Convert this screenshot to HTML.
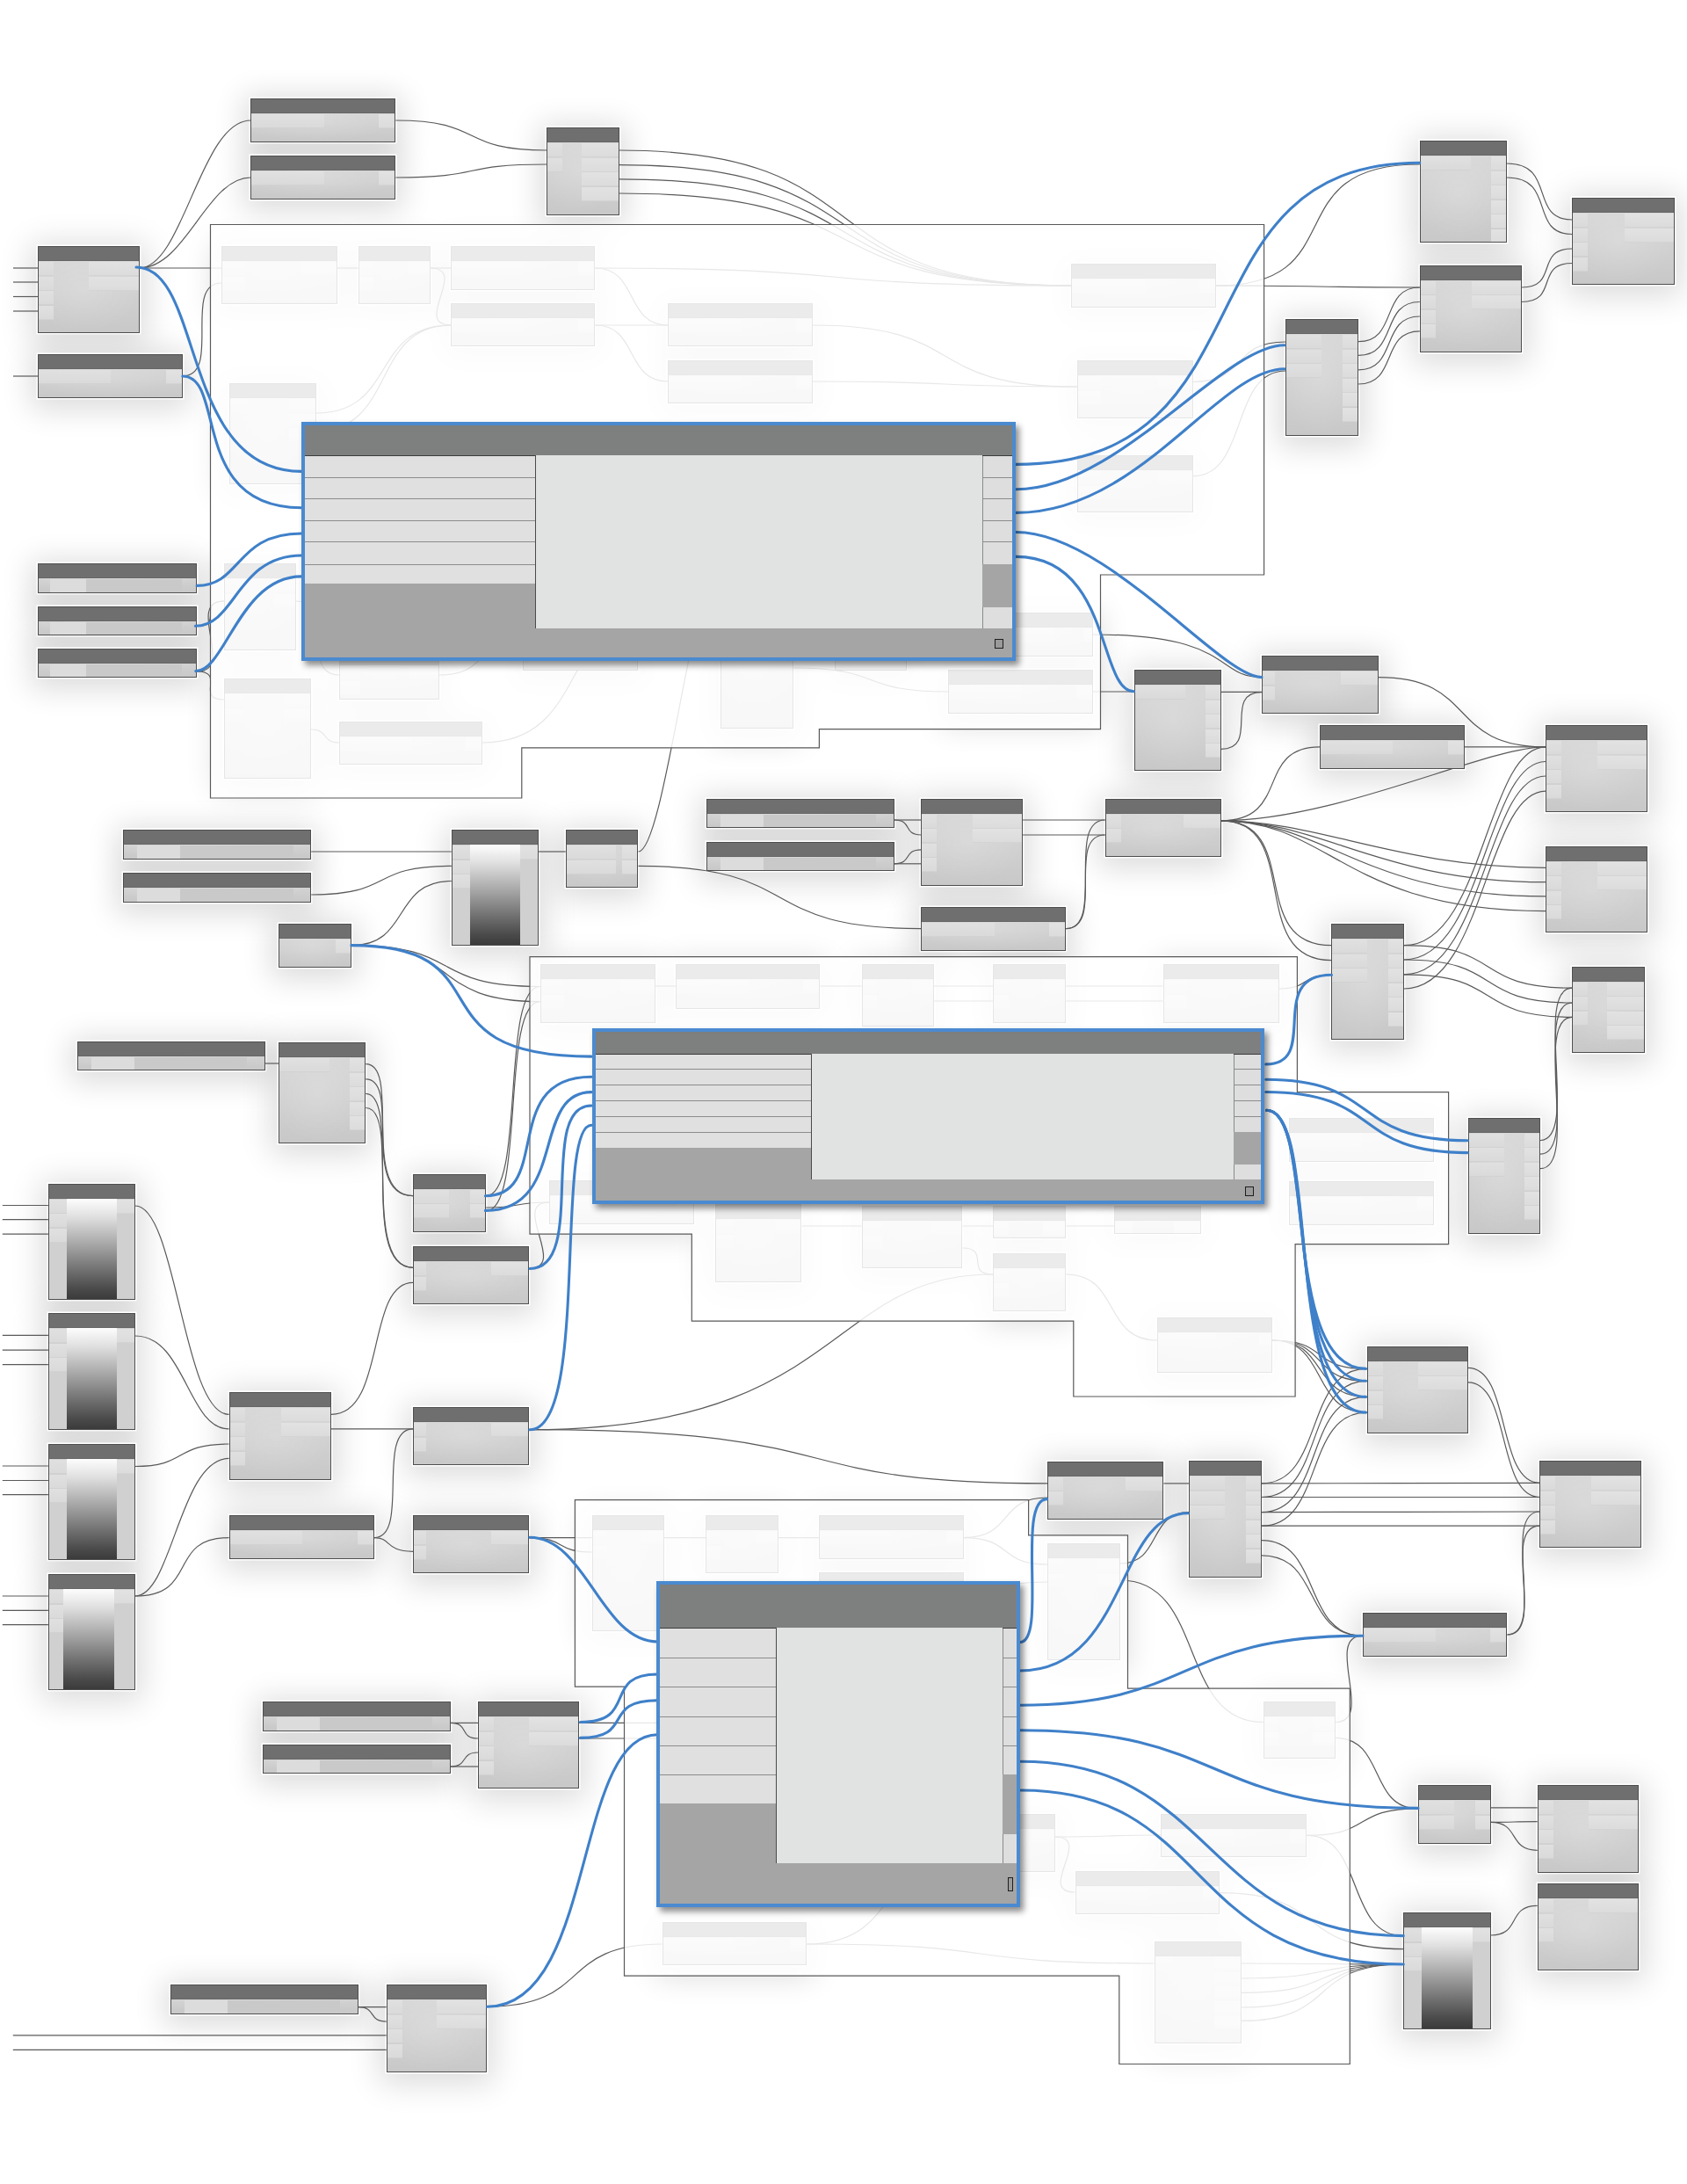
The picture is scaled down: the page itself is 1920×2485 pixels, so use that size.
<!DOCTYPE html><html><head><meta charset="utf-8"><title>Graph</title><style>
*{margin:0;padding:0;box-sizing:border-box}
html,body{width:1920px;height:2485px;background:#fff;overflow:hidden;font-family:"Liberation Sans",sans-serif}
#c{position:relative;width:1920px;height:2485px;background:#fff;filter:blur(0.45px)}
svg{position:absolute;left:0;top:0}
.n{position:absolute;border:1px solid #4e4e4e;background:radial-gradient(ellipse 55% 50% at 45% 50%,rgba(255,255,255,.16),rgba(255,255,255,0)),linear-gradient(180deg,#d9d9d9 0%,#d1d1d1 55%,#c8c8c8 100%);
 overflow:hidden}
.sh{position:absolute;box-shadow:0 0 0 1.5px #fff,0 5px 34px 8px rgba(0,0,0,.14);background:#fff}
.n i{position:absolute;display:block}
.n .hd{left:0;top:0;right:0;height:16px;background:#6f6f6f;border-bottom:1px solid #666}
.n .pl{left:0;height:16px;background:linear-gradient(180deg,#e0e0e0,#dadada);border-bottom:1px solid #d2d2d2}
.n .pr{right:0;height:16px;background:linear-gradient(180deg,#e2e2e2,#dcdcdc);border-bottom:1px solid #d4d4d4}
.n .fl{top:17px;height:15px;background:#dcdcdc}
.n .fm{top:17px;height:15px;background:#c9c9c9}
.n .gl{left:0;top:16px;bottom:0;background:#d0d0d0}
.n .gg{top:16px;bottom:0;background:linear-gradient(180deg,#fdfdfd 0%,#e0e0e0 18%,#a8a8a8 45%,#737373 70%,#4a4a4a 90%,#3b3b3b 100%)}
.bn{position:absolute;border:4px solid #4a8ad0;background:#a5a5a5;box-shadow:4px 5px 7px rgba(0,0,0,.45)}
.bn i{position:absolute;display:block}
.bn .bh{background:#7e7f7f;border-bottom:1.5px solid #3c3c3c}
.bn .br{background:#e0e0e0}
.bn .bt{border-top:1px solid #8c8c8c}
.bn .bp{background:#e1e2e2;border-left:1.5px solid #4a4a4a}
.bn .bo{background:#dedede;border-left:1px solid #8a8a8a}
.bn .bi{border:1.5px solid #1e1e1e;background:#9a9a9a}
</style></head><body><div id="c">
<div style="position:absolute;left:0;top:0;z-index:1">
<div class="sh" style="left:285.3px;top:112px;width:165.1px;height:50.2px"></div>
<div class="sh" style="left:285.3px;top:177px;width:165.1px;height:50.2px"></div>
<div class="sh" style="left:43.2px;top:280px;width:115.6px;height:99.2px"></div>
<div class="sh" style="left:43.2px;top:403px;width:164.6px;height:49.8px"></div>
<div class="sh" style="left:622.3px;top:145.4px;width:82.5px;height:99.6px"></div>
<div class="sh" style="left:1615.8px;top:160.2px;width:99.1px;height:116.1px"></div>
<div class="sh" style="left:1789.4px;top:225.1px;width:116.4px;height:99px"></div>
<div class="sh" style="left:1615.8px;top:301.9px;width:115.8px;height:99.6px"></div>
<div class="sh" style="left:1463.3px;top:363.4px;width:82.8px;height:132.6px"></div>
<div class="sh" style="left:43.2px;top:641.1px;width:181px;height:33.6px"></div>
<div class="sh" style="left:43.2px;top:689.5px;width:181px;height:33.5px"></div>
<div class="sh" style="left:43.2px;top:738.4px;width:181px;height:33px"></div>
<div class="sh" style="left:140.3px;top:944.1px;width:213.9px;height:33.6px"></div>
<div class="sh" style="left:140.3px;top:992.5px;width:213.9px;height:34.1px"></div>
<div class="sh" style="left:513.8px;top:944.2px;width:99.3px;height:131.9px"></div>
<div class="sh" style="left:643.7px;top:944.2px;width:82.8px;height:66.2px"></div>
<div class="sh" style="left:803.5px;top:909.4px;width:214.3px;height:32.7px"></div>
<div class="sh" style="left:803.5px;top:958.3px;width:214.3px;height:33px"></div>
<div class="sh" style="left:1290.6px;top:762.3px;width:99px;height:115px"></div>
<div class="sh" style="left:1436px;top:746.4px;width:132.6px;height:65.4px"></div>
<div class="sh" style="left:1048.4px;top:908.6px;width:115.5px;height:99.1px"></div>
<div class="sh" style="left:1257.6px;top:908.6px;width:132px;height:66.4px"></div>
<div class="sh" style="left:1048.4px;top:1032.3px;width:164.8px;height:49.5px"></div>
<div class="sh" style="left:1502px;top:825.2px;width:164.8px;height:49.8px"></div>
<div class="sh" style="left:1759.2px;top:825.2px;width:115.6px;height:99px"></div>
<div class="sh" style="left:1759.2px;top:962.6px;width:115.6px;height:98.2px"></div>
<div class="sh" style="left:317.2px;top:1050.8px;width:82.6px;height:49.8px"></div>
<div class="sh" style="left:87.6px;top:1185.1px;width:214px;height:33.3px"></div>
<div class="sh" style="left:317.2px;top:1186px;width:99.1px;height:115.2px"></div>
<div class="sh" style="left:54.9px;top:1346.7px;width:99px;height:132.3px"></div>
<div class="sh" style="left:54.9px;top:1494.4px;width:99px;height:132.3px"></div>
<div class="sh" style="left:54.9px;top:1643.2px;width:99px;height:132px"></div>
<div class="sh" style="left:54.9px;top:1791.2px;width:99px;height:132px"></div>
<div class="sh" style="left:470px;top:1335.9px;width:83.1px;height:66.3px"></div>
<div class="sh" style="left:470px;top:1418.4px;width:132.3px;height:65.5px"></div>
<div class="sh" style="left:1515.4px;top:1051.4px;width:82.5px;height:131.7px"></div>
<div class="sh" style="left:1789.4px;top:1099.8px;width:82.5px;height:98.7px"></div>
<div class="sh" style="left:1670.5px;top:1271.9px;width:82.5px;height:131.7px"></div>
<div class="sh" style="left:260.6px;top:1584.3px;width:116.4px;height:99.6px"></div>
<div class="sh" style="left:260.6px;top:1724.3px;width:165.4px;height:49.5px"></div>
<div class="sh" style="left:470px;top:1601px;width:132.3px;height:66.4px"></div>
<div class="sh" style="left:470px;top:1724.3px;width:132.3px;height:66px"></div>
<div class="sh" style="left:298.8px;top:1936px;width:213.9px;height:33.6px"></div>
<div class="sh" style="left:298.8px;top:1985.2px;width:213.9px;height:33.3px"></div>
<div class="sh" style="left:544px;top:1936px;width:115.3px;height:98.7px"></div>
<div class="sh" style="left:1192.2px;top:1662.8px;width:132.3px;height:65.8px"></div>
<div class="sh" style="left:1353.2px;top:1662.3px;width:82.5px;height:132.3px"></div>
<div class="sh" style="left:1555.5px;top:1531.8px;width:115.2px;height:98.8px"></div>
<div class="sh" style="left:1752.4px;top:1662.3px;width:115.2px;height:99px"></div>
<div class="sh" style="left:1551px;top:1835.3px;width:164.4px;height:49.7px"></div>
<div class="sh" style="left:194px;top:2258.4px;width:213.7px;height:33.8px"></div>
<div class="sh" style="left:439.6px;top:2258.4px;width:114.9px;height:99.3px"></div>
<div class="sh" style="left:1613.8px;top:2031.3px;width:82.8px;height:66.3px"></div>
<div class="sh" style="left:1749.6px;top:2031.3px;width:115.5px;height:99.6px"></div>
<div class="sh" style="left:1749.6px;top:2143.1px;width:115.5px;height:99.3px"></div>
<div class="sh" style="left:1597.3px;top:2176.4px;width:99.3px;height:132.3px"></div>
<div class="sh" style="left:252px;top:280px;width:132px;height:65.5px"></div>
<div class="sh" style="left:407.5px;top:280px;width:82px;height:65.5px"></div>
<div class="sh" style="left:513.4px;top:280px;width:163.9px;height:50px"></div>
<div class="sh" style="left:513.4px;top:345px;width:163.9px;height:49px"></div>
<div class="sh" style="left:760.4px;top:345px;width:164.6px;height:49px"></div>
<div class="sh" style="left:760.4px;top:410px;width:164.6px;height:49px"></div>
<div class="sh" style="left:260.7px;top:436px;width:99px;height:115px"></div>
<div class="sh" style="left:255px;top:641px;width:82px;height:99px"></div>
<div class="sh" style="left:255px;top:771.8px;width:99px;height:114.2px"></div>
<div class="sh" style="left:386px;top:740px;width:114px;height:55.7px"></div>
<div class="sh" style="left:386px;top:820.7px;width:163px;height:49px"></div>
<div class="sh" style="left:595px;top:700px;width:131.4px;height:63px"></div>
<div class="sh" style="left:820.3px;top:700px;width:82.7px;height:128.5px"></div>
<div class="sh" style="left:949.6px;top:700px;width:82.8px;height:63px"></div>
<div class="sh" style="left:1154.5px;top:697px;width:89.5px;height:50.4px"></div>
<div class="sh" style="left:1079.3px;top:762px;width:164.7px;height:50.3px"></div>
<div class="sh" style="left:1219px;top:300px;width:165px;height:49.7px"></div>
<div class="sh" style="left:1226px;top:410px;width:131.5px;height:66px"></div>
<div class="sh" style="left:1226px;top:518px;width:131.5px;height:65px"></div>
<div class="sh" style="left:614.6px;top:1097px;width:131.4px;height:66.8px"></div>
<div class="sh" style="left:768.8px;top:1097px;width:164.5px;height:50.5px"></div>
<div class="sh" style="left:980.5px;top:1097px;width:82.5px;height:70.5px"></div>
<div class="sh" style="left:1130px;top:1097px;width:83.2px;height:66.8px"></div>
<div class="sh" style="left:1323.6px;top:1097px;width:132px;height:66.8px"></div>
<div class="sh" style="left:625px;top:1343px;width:164.6px;height:49.8px"></div>
<div class="sh" style="left:814.3px;top:1370px;width:98.2px;height:89px"></div>
<div class="sh" style="left:980.5px;top:1371.5px;width:114.9px;height:71.1px"></div>
<div class="sh" style="left:1130px;top:1371.5px;width:83.2px;height:37.8px"></div>
<div class="sh" style="left:1267.9px;top:1371.5px;width:99px;height:32.1px"></div>
<div class="sh" style="left:1130px;top:1425.5px;width:83.2px;height:66.1px"></div>
<div class="sh" style="left:1317px;top:1498.7px;width:131px;height:62.9px"></div>
<div class="sh" style="left:1466.5px;top:1272px;width:165.5px;height:49.7px"></div>
<div class="sh" style="left:1466.5px;top:1343.9px;width:165.5px;height:49.8px"></div>
<div class="sh" style="left:673.5px;top:1724.3px;width:82.5px;height:131.4px"></div>
<div class="sh" style="left:803px;top:1724.3px;width:82.5px;height:66px"></div>
<div class="sh" style="left:932.4px;top:1724.3px;width:164.2px;height:49.5px"></div>
<div class="sh" style="left:932.4px;top:1789px;width:164.2px;height:49px"></div>
<div class="sh" style="left:1192.2px;top:1756px;width:82.8px;height:132.5px"></div>
<div class="sh" style="left:753.7px;top:2187px;width:164.5px;height:49px"></div>
<div class="sh" style="left:1117px;top:2063.5px;width:83.5px;height:66.4px"></div>
<div class="sh" style="left:1321.2px;top:2063.5px;width:166px;height:49.8px"></div>
<div class="sh" style="left:1223.5px;top:2128.7px;width:164.8px;height:49.8px"></div>
<div class="sh" style="left:1313.6px;top:2209.3px;width:99.1px;height:115.5px"></div>
<div class="sh" style="left:1437.8px;top:1936px;width:82.4px;height:65.3px"></div>
</div>
<svg width="1920" height="2485" style="z-index:2"><g fill="none" stroke="#5a5a5a" stroke-width="1.2">
<path d="M158.5 305C208.5 305 228.3 137 285.3 137"/>
<path d="M158.5 305C211.5 305 235.3 202 285.3 202"/>
<path d="M158.5 305C214.6 305 195.9 305 252 305"/>
<path d="M207.8 428C252.8 428 207 322 252 322"/>
<path d="M15 305C31.9 305 26.3 305 43.2 305"/>
<path d="M15 321C31.9 321 26.3 321 43.2 321"/>
<path d="M15 337.5C31.9 337.5 26.3 337.5 43.2 337.5"/>
<path d="M15 354C31.9 354 26.3 354 43.2 354"/>
<path d="M15 428C31.9 428 26.3 428 43.2 428"/>
<path d="M450.4 137C553.5 137 519.2 171 622.3 171"/>
<path d="M450.4 202C553.5 202 519.2 187 622.3 187"/>
<path d="M704.8 171C1013.3 171 910.5 325 1219 325"/>
<path d="M704.8 187.6C1013.3 187.6 910.5 325 1219 325"/>
<path d="M704.8 203.8C1013.3 203.8 910.5 325 1219 325"/>
<path d="M704.8 220C1013.3 220 910.5 325 1219 325"/>
<path d="M1384 325C1544 325 1448.8 187 1615.8 187"/>
<path d="M1384 325C1523.1 325 1476.7 327 1615.8 327"/>
<path d="M1546.1 388.7C1591.1 388.7 1570.8 327 1615.8 327"/>
<path d="M1546.1 404.4C1591.1 404.4 1570.8 343.5 1615.8 343.5"/>
<path d="M1546.1 420.9C1591.1 420.9 1570.8 360 1615.8 360"/>
<path d="M1546.1 437C1591.1 437 1570.8 376.8 1615.8 376.8"/>
<path d="M1714.9 186C1771.9 186 1739.4 250 1789.4 250"/>
<path d="M1714.9 202C1771.9 202 1739.4 266.5 1789.4 266.5"/>
<path d="M1731.6 327C1774.8 327 1746.2 283 1789.4 283"/>
<path d="M1731.6 343.5C1774.8 343.5 1746.2 299.5 1789.4 299.5"/>
<path d="M224.2 764C269.2 764 210 684 255 684"/>
<path d="M224.2 764C257.8 764 221.4 796 255 796"/>
<path d="M224.2 712.5C255 712.5 224.2 684 255 684"/>
<path d="M354.2 969C450 969 418 969 513.8 969"/>
<path d="M354.2 1018C450 1018 418 985.4 513.8 985.4"/>
<path d="M399.8 1075.6C468.2 1075.6 445.4 1002.5 513.8 1002.5"/>
<path d="M613.1 969C631.5 969 625.3 969 643.7 969"/>
<path d="M726.5 969C756.5 969 790 640 820 640"/>
<path d="M726.5 985.4C919.6 985.4 855.3 1056.6 1048.4 1056.6"/>
<path d="M1017.8 933C1036.2 933 1030 933 1048.4 933"/>
<path d="M1017.8 933C1039.4 933 1026.8 950 1048.4 950"/>
<path d="M1017.8 982.8C1038.6 982.8 1027.6 966.8 1048.4 966.8"/>
<path d="M1017.8 982.8C1036.2 982.8 1030 982.8 1048.4 982.8"/>
<path d="M1163.9 933C1220.1 933 1201.4 933 1257.6 933"/>
<path d="M1163.9 950C1220.1 950 1201.4 950 1257.6 950"/>
<path d="M1213.2 1056.6C1258.2 1056.6 1212.6 933 1257.6 933"/>
<path d="M1213.2 1056.6C1258.2 1056.6 1212.6 950 1257.6 950"/>
<path d="M1389.6 933.8C1469.6 933.8 1428 849.9 1502 849.9"/>
<path d="M1389.6 933.8C1522.6 933.8 1690.2 849.9 1759.2 849.9"/>
<path d="M1389.6 933.8C1501.6 933.8 1590.2 987.3 1759.2 987.3"/>
<path d="M1389.6 933.8C1505.6 933.8 1570.2 1003.7 1759.2 1003.7"/>
<path d="M1389.6 933.8C1509.6 933.8 1550.2 1019.9 1759.2 1019.9"/>
<path d="M1389.6 933.8C1514.6 933.8 1529.2 1036.6 1759.2 1036.6"/>
<path d="M1389.6 933.8C1483.6 933.8 1417.4 1075.7 1515.4 1075.7"/>
<path d="M1389.6 933.8C1483.6 933.8 1417.4 1092.6 1515.4 1092.6"/>
<path d="M1666.8 849.9C1722.2 849.9 1703.8 849.9 1759.2 849.9"/>
<path d="M1568.6 770.6C1683 770.6 1644.8 849.9 1759.2 849.9"/>
<path d="M1389.6 852.4C1434.6 852.4 1391 787.6 1436 787.6"/>
<path d="M1597.9 1075.7C1688.9 1075.7 1691.2 849.9 1759.2 849.9"/>
<path d="M1597.9 1092C1688.9 1092 1691.2 866.5 1759.2 866.5"/>
<path d="M1597.9 1108.8C1688.9 1108.8 1691.2 883 1759.2 883"/>
<path d="M1597.9 1125C1688.9 1125 1691.2 900.2 1759.2 900.2"/>
<path d="M1597.9 1075.7C1712.8 1075.7 1674.5 1124.2 1789.4 1124.2"/>
<path d="M1597.9 1092C1712.8 1092 1674.5 1141 1789.4 1141"/>
<path d="M1597.9 1108.8C1712.8 1108.8 1674.5 1157.3 1789.4 1157.3"/>
<path d="M1753 1297.5C1798 1297.5 1744.4 1124.2 1789.4 1124.2"/>
<path d="M1753 1313.2C1798 1313.2 1744.4 1141 1789.4 1141"/>
<path d="M1753 1329.7C1798 1329.7 1744.4 1157.3 1789.4 1157.3"/>
<path d="M1670.7 1556.3C1719.7 1556.3 1703.4 1687.3 1752.4 1687.3"/>
<path d="M1670.7 1572.8C1719.7 1572.8 1703.4 1703.5 1752.4 1703.5"/>
<path d="M1435.7 1687.9C1625.7 1687.9 1562.4 1687.3 1752.4 1687.3"/>
<path d="M1435.7 1703.5C1625.7 1703.5 1562.4 1703.5 1752.4 1703.5"/>
<path d="M1435.7 1720.6C1625.7 1720.6 1562.4 1720 1752.4 1720"/>
<path d="M1435.7 1736.2C1625.7 1736.2 1562.4 1736.2 1752.4 1736.2"/>
<path d="M1435.7 1687.9C1507.6 1687.9 1483.6 1557.4 1555.5 1557.4"/>
<path d="M1435.7 1703.5C1507.6 1703.5 1483.6 1571.3 1555.5 1571.3"/>
<path d="M1435.7 1720.6C1507.6 1720.6 1483.6 1589.4 1555.5 1589.4"/>
<path d="M1435.7 1736.2C1507.6 1736.2 1483.6 1607.1 1555.5 1607.1"/>
<path d="M1448 1525C1512.5 1525 1491 1557.4 1555.5 1557.4"/>
<path d="M1448 1525C1512.5 1525 1491 1571.3 1555.5 1571.3"/>
<path d="M1448 1525C1512.5 1525 1491 1589.4 1555.5 1589.4"/>
<path d="M1448 1525C1512.5 1525 1491 1607.1 1555.5 1607.1"/>
<path d="M1715.4 1860C1760.4 1860 1707.4 1720 1752.4 1720"/>
<path d="M1715.4 1860C1760.4 1860 1707.4 1736.2 1752.4 1736.2"/>
<path d="M1435.7 1752.7C1504.9 1752.7 1481.8 1861.2 1551 1861.2"/>
<path d="M1435.7 1769.8C1504.9 1769.8 1481.8 1861.2 1551 1861.2"/>
<path d="M1520.2 1959.5C1565.2 1959.5 1506 1861.2 1551 1861.2"/>
<path d="M1520.2 1977.4C1576.4 1977.4 1557.6 2057.8 1613.8 2057.8"/>
<path d="M1487.2 2088.4C1563.2 2088.4 1537.8 2057.8 1613.8 2057.8"/>
<path d="M1275 1798C1372.7 1798 1340.1 1959.5 1437.8 1959.5"/>
<path d="M1275 1779C1321.9 1779 1306.3 1720.6 1353.2 1720.6"/>
<path d="M1324.5 1687.9C1341.7 1687.9 1336 1687.9 1353.2 1687.9"/>
<path d="M1696.6 2056.9C1728.4 2056.9 1717.8 2056.9 1749.6 2056.9"/>
<path d="M1696.6 2073.4C1728.4 2073.4 1717.8 2072.6 1749.6 2072.6"/>
<path d="M1696.6 2073.4C1730.1 2073.4 1716.1 2105.3 1749.6 2105.3"/>
<path d="M1696.6 2202C1731.5 2202 1714.7 2168.4 1749.6 2168.4"/>
<path d="M1487.2 2088.4C1553.3 2088.4 1531.2 2202.6 1597.3 2202.6"/>
<path d="M1388.3 2153.6C1513.7 2153.6 1471.9 2217.7 1597.3 2217.7"/>
<path d="M1412.7 2234C1523.5 2234 1486.5 2235 1597.3 2235"/>
<path d="M1412.7 2251C1523.5 2251 1486.5 2235 1597.3 2235"/>
<path d="M1412.7 2267.4C1523.5 2267.4 1486.5 2235 1597.3 2235"/>
<path d="M1412.7 2284C1523.5 2284 1486.5 2235 1597.3 2235"/>
<path d="M1412.7 2299.4C1523.5 2299.4 1486.5 2235 1597.3 2235"/>
<path d="M407.7 2283.7C426.8 2283.7 420.5 2283.7 439.6 2283.7"/>
<path d="M407.7 2283.7C428.9 2283.7 418.4 2300.2 439.6 2300.2"/>
<path d="M14.8 2315.8C269.7 2315.8 184.7 2315.8 439.6 2315.8"/>
<path d="M14.8 2332.3C269.7 2332.3 184.7 2332.3 439.6 2332.3"/>
<path d="M554.5 2283.2C674 2283.2 634.2 2212 753.7 2212"/>
<path d="M512.7 1960.4C531.5 1960.4 525.2 1960.4 544 1960.4"/>
<path d="M512.7 1960.4C534.8 1960.4 521.9 1978 544 1978"/>
<path d="M512.7 2010C531.5 2010 525.2 2010 544 2010"/>
<path d="M512.7 2010C533.5 2010 523.2 1994 544 1994"/>
<path d="M659.3 1960.4C719.7 1960.4 699.6 1960.4 760 1960.4"/>
<path d="M659.3 1978C719.7 1978 699.6 1978 760 1978"/>
<path d="M602.3 1749.6C645 1749.6 630.8 1749.6 673.5 1749.6"/>
<path d="M602.3 1749.6C645 1749.6 630.8 1766 673.5 1766"/>
<path d="M426 1749.6C467 1749.6 427 1625.9 470 1625.9"/>
<path d="M426 1749.6C446 1749.6 438 1765.3 470 1765.3"/>
<path d="M377 1609.4C440 1609.4 416 1459.4 470 1459.4"/>
<path d="M377 1625.9C432.8 1625.9 414.2 1625.9 470 1625.9"/>
<path d="M153.9 1372C200.9 1372 208.6 1609.4 260.6 1609.4"/>
<path d="M153.9 1520C210.9 1520 213.6 1625.9 260.6 1625.9"/>
<path d="M153.9 1668.5C213.9 1668.5 196.6 1643 260.6 1643"/>
<path d="M153.9 1816C195.9 1816 204.6 1659.4 260.6 1659.4"/>
<path d="M153.9 1816C226.9 1816 189.6 1749.6 260.6 1749.6"/>
<path d="M2.8 1371.5C34.1 1371.5 23.6 1371.5 54.9 1371.5"/>
<path d="M2.8 1387.7C34.1 1387.7 23.6 1387.7 54.9 1387.7"/>
<path d="M2.8 1404.2C34.1 1404.2 23.6 1404.2 54.9 1404.2"/>
<path d="M2.8 1519.4C34.1 1519.4 23.6 1519.4 54.9 1519.4"/>
<path d="M2.8 1536.2C34.1 1536.2 23.6 1536.2 54.9 1536.2"/>
<path d="M2.8 1552.7C34.1 1552.7 23.6 1552.7 54.9 1552.7"/>
<path d="M2.8 1668C34.1 1668 23.6 1668 54.9 1668"/>
<path d="M2.8 1684.5C34.1 1684.5 23.6 1684.5 54.9 1684.5"/>
<path d="M2.8 1700.7C34.1 1700.7 23.6 1700.7 54.9 1700.7"/>
<path d="M2.8 1816C34.1 1816 23.6 1816 54.9 1816"/>
<path d="M2.8 1832.4C34.1 1832.4 23.6 1832.4 54.9 1832.4"/>
<path d="M2.8 1848.6C34.1 1848.6 23.6 1848.6 54.9 1848.6"/>
<path d="M301.6 1210C311 1210 307.8 1210 317.2 1210"/>
<path d="M416.3 1210.7C457.3 1210.7 409 1360.7 470 1360.7"/>
<path d="M416.3 1227.8C457.3 1227.8 409 1360.7 470 1360.7"/>
<path d="M416.3 1244.3C457.3 1244.3 409 1442.3 470 1442.3"/>
<path d="M416.3 1260.5C457.3 1260.5 409 1442.3 470 1442.3"/>
<path d="M553.1 1360.7C598.1 1360.7 569.6 1122.5 614.6 1122.5"/>
<path d="M553.1 1377.8C598.1 1377.8 569.6 1139.6 614.6 1139.6"/>
<path d="M399.8 1075.6C528.7 1075.6 485.7 1122.5 614.6 1122.5"/>
<path d="M399.8 1075.6C528.7 1075.6 485.7 1139.6 614.6 1139.6"/>
<path d="M602.3 1443C647.3 1443 580 1368 625 1368"/>
<path d="M553.1 1374C596.2 1374 581.9 1368 625 1368"/>
<path d="M602.3 1626.7C962.3 1626.7 940 1450 1130 1450"/>
<path d="M602.3 1626.7C984.3 1626.7 876.2 1687.9 1192.2 1687.9"/>
<path d="M1455.6 1125C1491.5 1125 1479.5 1109 1515.4 1109"/>
<path d="M1096.6 1749.6C1154 1749.6 1134.8 1704 1192.2 1704"/>
<path d="M1244 722C1405 722 1382 770.6 1436 770.6"/>
<path d="M1389.6 787.3C1417.4 787.3 1408.2 787.3 1436 787.3"/>
<path d="M384 305C398.1 305 393.4 305 407.5 305"/>
<path d="M489.5 305C503.8 305 499.1 305 513.4 305"/>
<path d="M489.5 305C534.5 305 468.4 370 513.4 370"/>
<path d="M677.3 305C1002.3 305 894 325 1219 325"/>
<path d="M677.3 305C727.2 305 710.5 370 760.4 370"/>
<path d="M677.3 370C727.2 370 710.5 370 760.4 370"/>
<path d="M677.3 370C727.2 370 710.5 434 760.4 434"/>
<path d="M359.7 470C451.9 470 421.2 370 513.4 370"/>
<path d="M359.7 490C451.9 490 421.2 370 513.4 370"/>
<path d="M925 370C1105.6 370 1045.4 440 1226 440"/>
<path d="M925 434C1105.6 434 1045.4 440 1226 440"/>
<path d="M1384 325C1416.8 325 1405.8 325 1438.6 325"/>
<path d="M1357.5 434.5C1421 434.5 1399.8 389 1463.3 389"/>
<path d="M1357.5 541.7C1421 541.7 1399.8 422 1463.3 422"/>
<path d="M337 684C382 684 341 768 386 768"/>
<path d="M354 830C374 830 366 845 386 845"/>
<path d="M500 768C557 768 538 730 595 730"/>
<path d="M549 845C675.6 845 633.4 690 760 690"/>
<path d="M903 760C1008.8 760 973.5 787 1079.3 787"/>
<path d="M1244 787C1272 787 1262.6 787 1290.6 787"/>
<path d="M746 1122C759.7 1122 755.1 1122 768.8 1122"/>
<path d="M933.3 1122C961.6 1122 952.2 1122 980.5 1122"/>
<path d="M1063 1122C1103.2 1122 1089.8 1122 1130 1122"/>
<path d="M1213.2 1122C1279.4 1122 1257.4 1122 1323.6 1122"/>
<path d="M1213.2 1139C1279.4 1139 1257.4 1139 1323.6 1139"/>
<path d="M1063 1139C1103.2 1139 1089.8 1139 1130 1139"/>
<path d="M912.5 1395C953.3 1395 939.7 1395 980.5 1395"/>
<path d="M1095.4 1395C1116.2 1395 1109.2 1395 1130 1395"/>
<path d="M1213.2 1395C1246 1395 1235.1 1395 1267.9 1395"/>
<path d="M1213.2 1450C1275.5 1450 1254.7 1525 1317 1525"/>
<path d="M1095.4 1420C1127.4 1420 1098 1450 1130 1450"/>
<path d="M756 1749.6C784.2 1749.6 774.8 1749.6 803 1749.6"/>
<path d="M885.5 1749.6C913.6 1749.6 904.3 1749.6 932.4 1749.6"/>
<path d="M1096.6 1749.6C1154 1749.6 1134.8 1780 1192.2 1780"/>
<path d="M1096.6 1810C1154 1810 1134.8 1800 1192.2 1800"/>
<path d="M918.2 2212C1037.5 2212 997.7 2090 1117 2090"/>
<path d="M1200.5 2090C1272.9 2090 1248.8 2088 1321.2 2088"/>
<path d="M1200.5 2090C1245.5 2090 1178.5 2153 1223.5 2153"/>
<path d="M918.2 2212C1155.4 2212 1076.4 2234 1313.6 2234"/>
</g></svg>
<div style="position:absolute;left:0;top:0;z-index:3">
<div class="n" style="left:252px;top:280px;width:132px;height:65.5px"><i class="hd"></i><i class="pl" style="top:17px;width:26px"></i><i class="pl" style="top:33.5px;width:26px"></i><i class="pr" style="top:17px;width:40px"></i></div>
<div class="n" style="left:407.5px;top:280px;width:82px;height:65.5px"><i class="hd"></i><i class="pl" style="top:17px;width:16px"></i><i class="pl" style="top:33.5px;width:16px"></i><i class="pr" style="top:17px;width:25px"></i></div>
<div class="n" style="left:513.4px;top:280px;width:163.9px;height:50px"><i class="hd"></i><i class="pl" style="top:17px;width:81.9px;height:16px"></i><i class="pr" style="top:17px;width:18px;height:16px"></i></div>
<div class="n" style="left:513.4px;top:345px;width:163.9px;height:49px"><i class="hd"></i><i class="pl" style="top:17px;width:81.9px;height:16px"></i><i class="pr" style="top:17px;width:18px;height:16px"></i></div>
<div class="n" style="left:760.4px;top:345px;width:164.6px;height:49px"><i class="hd"></i><i class="pl" style="top:17px;width:82.3px;height:16px"></i><i class="pr" style="top:17px;width:18.1px;height:16px"></i></div>
<div class="n" style="left:760.4px;top:410px;width:164.6px;height:49px"><i class="hd"></i><i class="pl" style="top:17px;width:82.3px;height:16px"></i><i class="pr" style="top:17px;width:18.1px;height:16px"></i></div>
<div class="n" style="left:260.7px;top:436px;width:99px;height:115px"><i class="hd"></i><i class="pl" style="top:17px;width:20px"></i><i class="pr" style="top:17px;width:30px"></i><i class="pr" style="top:33.5px;width:30px"></i><i class="pr" style="top:50px;width:30px"></i></div>
<div class="n" style="left:255px;top:641px;width:82px;height:99px"><i class="hd"></i><i class="pl" style="top:17px;width:16px"></i><i class="pl" style="top:33.5px;width:16px"></i><i class="pr" style="top:17px;width:25px"></i><i class="pr" style="top:33.5px;width:25px"></i></div>
<div class="n" style="left:255px;top:771.8px;width:99px;height:114.2px"><i class="hd"></i><i class="pl" style="top:17px;width:20px"></i><i class="pl" style="top:33.5px;width:20px"></i><i class="pr" style="top:17px;width:30px"></i><i class="pr" style="top:33.5px;width:30px"></i></div>
<div class="n" style="left:386px;top:740px;width:114px;height:55.7px"><i class="hd"></i><i class="pl" style="top:17px;width:23px"></i><i class="pl" style="top:33.5px;width:23px"></i><i class="pr" style="top:17px;width:34px"></i></div>
<div class="n" style="left:386px;top:820.7px;width:163px;height:49px"><i class="hd"></i><i class="pl" style="top:17px;width:81.5px;height:16px"></i><i class="pr" style="top:17px;width:17.9px;height:16px"></i></div>
<div class="n" style="left:595px;top:700px;width:131.4px;height:63px"><i class="hd"></i><i class="pl" style="top:17px;width:65.7px;height:16px"></i><i class="pr" style="top:17px;width:14.5px;height:16px"></i></div>
<div class="n" style="left:820.3px;top:700px;width:82.7px;height:128.5px"><i class="hd"></i><i class="pl" style="top:17px;width:17px"></i><i class="pl" style="top:33.5px;width:17px"></i><i class="pr" style="top:17px;width:25px"></i><i class="pr" style="top:33.5px;width:25px"></i></div>
<div class="n" style="left:949.6px;top:700px;width:82.8px;height:63px"><i class="hd"></i><i class="pl" style="top:17px;width:17px"></i><i class="pl" style="top:33.5px;width:17px"></i><i class="pr" style="top:17px;width:25px"></i></div>
<div class="n" style="left:1154.5px;top:697px;width:89.5px;height:50.4px"><i class="hd"></i><i class="pl" style="top:17px;width:44.8px;height:16px"></i><i class="pr" style="top:17px;width:9.8px;height:16px"></i></div>
<div class="n" style="left:1079.3px;top:762px;width:164.7px;height:50.3px"><i class="hd"></i><i class="pl" style="top:17px;width:82.4px;height:16px"></i><i class="pr" style="top:17px;width:18.1px;height:16px"></i></div>
<div class="n" style="left:1219px;top:300px;width:165px;height:49.7px"><i class="hd"></i><i class="pl" style="top:17px;width:82.5px;height:16px"></i><i class="pr" style="top:17px;width:18.1px;height:16px"></i></div>
<div class="n" style="left:1226px;top:410px;width:131.5px;height:66px"><i class="hd"></i><i class="pl" style="top:17px;width:26px"></i><i class="pl" style="top:33.5px;width:26px"></i><i class="pr" style="top:17px;width:39px"></i></div>
<div class="n" style="left:1226px;top:518px;width:131.5px;height:65px"><i class="hd"></i><i class="pl" style="top:17px;width:26px"></i><i class="pl" style="top:33.5px;width:26px"></i><i class="pr" style="top:17px;width:39px"></i></div>
<div class="n" style="left:614.6px;top:1097px;width:131.4px;height:66.8px"><i class="hd"></i><i class="pl" style="top:17px;width:26px"></i><i class="pl" style="top:33.5px;width:26px"></i><i class="pr" style="top:17px;width:39px"></i></div>
<div class="n" style="left:768.8px;top:1097px;width:164.5px;height:50.5px"><i class="hd"></i><i class="pl" style="top:17px;width:82.2px;height:16px"></i><i class="pr" style="top:17px;width:18.1px;height:16px"></i></div>
<div class="n" style="left:980.5px;top:1097px;width:82.5px;height:70.5px"><i class="hd"></i><i class="pl" style="top:17px;width:16px"></i><i class="pl" style="top:33.5px;width:16px"></i><i class="pr" style="top:17px;width:25px"></i></div>
<div class="n" style="left:1130px;top:1097px;width:83.2px;height:66.8px"><i class="hd"></i><i class="pl" style="top:17px;width:17px"></i><i class="pl" style="top:33.5px;width:17px"></i><i class="pr" style="top:17px;width:25px"></i></div>
<div class="n" style="left:1323.6px;top:1097px;width:132px;height:66.8px"><i class="hd"></i><i class="pl" style="top:17px;width:26px"></i><i class="pl" style="top:33.5px;width:26px"></i><i class="pr" style="top:17px;width:40px"></i></div>
<div class="n" style="left:625px;top:1343px;width:164.6px;height:49.8px"><i class="hd"></i><i class="pl" style="top:17px;width:82.3px;height:16px"></i><i class="pr" style="top:17px;width:18.1px;height:16px"></i></div>
<div class="n" style="left:814.3px;top:1370px;width:98.2px;height:89px"><i class="hd"></i><i class="pl" style="top:17px;width:20px"></i><i class="pl" style="top:33.5px;width:20px"></i><i class="pr" style="top:17px;width:29px"></i></div>
<div class="n" style="left:980.5px;top:1371.5px;width:114.9px;height:71.1px"><i class="hd"></i><i class="pl" style="top:17px;width:23px"></i><i class="pl" style="top:33.5px;width:23px"></i><i class="pr" style="top:17px;width:34px"></i></div>
<div class="n" style="left:1130px;top:1371.5px;width:83.2px;height:37.8px"><i class="hd"></i><i class="pl" style="top:17px;width:17px"></i><i class="pr" style="top:17px;width:25px"></i></div>
<div class="n" style="left:1267.9px;top:1371.5px;width:99px;height:32.1px"><i class="hd"></i><i class="pl" style="top:17px;width:20px"></i><i class="pr" style="top:17px;width:30px"></i></div>
<div class="n" style="left:1130px;top:1425.5px;width:83.2px;height:66.1px"><i class="hd"></i><i class="pl" style="top:17px;width:17px"></i><i class="pl" style="top:33.5px;width:17px"></i><i class="pr" style="top:17px;width:25px"></i></div>
<div class="n" style="left:1317px;top:1498.7px;width:131px;height:62.9px"><i class="hd"></i><i class="pl" style="top:17px;width:65.5px;height:16px"></i><i class="pr" style="top:17px;width:14.4px;height:16px"></i></div>
<div class="n" style="left:1466.5px;top:1272px;width:165.5px;height:49.7px"><i class="hd"></i><i class="pl" style="top:17px;width:82.8px;height:16px"></i><i class="pr" style="top:17px;width:18.2px;height:16px"></i></div>
<div class="n" style="left:1466.5px;top:1343.9px;width:165.5px;height:49.8px"><i class="hd"></i><i class="pl" style="top:17px;width:82.8px;height:16px"></i><i class="pr" style="top:17px;width:18.2px;height:16px"></i></div>
<div class="n" style="left:673.5px;top:1724.3px;width:82.5px;height:131.4px"><i class="hd"></i><i class="pl" style="top:17px;width:16px"></i><i class="pl" style="top:33.5px;width:16px"></i><i class="pr" style="top:17px;width:25px"></i></div>
<div class="n" style="left:803px;top:1724.3px;width:82.5px;height:66px"><i class="hd"></i><i class="pl" style="top:17px;width:16px"></i><i class="pl" style="top:33.5px;width:16px"></i><i class="pr" style="top:17px;width:25px"></i></div>
<div class="n" style="left:932.4px;top:1724.3px;width:164.2px;height:49.5px"><i class="hd"></i><i class="pl" style="top:17px;width:82.1px;height:16px"></i><i class="pr" style="top:17px;width:18.1px;height:16px"></i></div>
<div class="n" style="left:932.4px;top:1789px;width:164.2px;height:49px"><i class="hd"></i><i class="pl" style="top:17px;width:82.1px;height:16px"></i><i class="pr" style="top:17px;width:18.1px;height:16px"></i></div>
<div class="n" style="left:1192.2px;top:1756px;width:82.8px;height:132.5px"><i class="hd"></i><i class="pl" style="top:17px;width:17px"></i><i class="pl" style="top:33.5px;width:17px"></i><i class="pr" style="top:17px;width:25px"></i><i class="pr" style="top:33.5px;width:25px"></i></div>
<div class="n" style="left:753.7px;top:2187px;width:164.5px;height:49px"><i class="hd"></i><i class="pl" style="top:17px;width:82.2px;height:16px"></i><i class="pr" style="top:17px;width:18.1px;height:16px"></i></div>
<div class="n" style="left:1117px;top:2063.5px;width:83.5px;height:66.4px"><i class="hd"></i><i class="pl" style="top:17px;width:17px"></i><i class="pl" style="top:33.5px;width:17px"></i><i class="pr" style="top:17px;width:25px"></i></div>
<div class="n" style="left:1321.2px;top:2063.5px;width:166px;height:49.8px"><i class="hd"></i><i class="pl" style="top:17px;width:83px;height:16px"></i><i class="pr" style="top:17px;width:18.3px;height:16px"></i></div>
<div class="n" style="left:1223.5px;top:2128.7px;width:164.8px;height:49.8px"><i class="hd"></i><i class="pl" style="top:17px;width:82.4px;height:16px"></i><i class="pr" style="top:17px;width:18.1px;height:16px"></i></div>
<div class="n" style="left:1313.6px;top:2209.3px;width:99.1px;height:115.5px"><i class="hd"></i><i class="pl" style="top:17px;width:20px"></i><i class="pr" style="top:17px;width:30px"></i><i class="pr" style="top:33.5px;width:30px"></i><i class="pr" style="top:50px;width:30px"></i><i class="pr" style="top:66.5px;width:30px"></i><i class="pr" style="top:83px;width:30px"></i></div>
<div class="n" style="left:1437.8px;top:1936px;width:82.4px;height:65.3px"><i class="hd"></i><i class="pl" style="top:17px;width:16px"></i><i class="pl" style="top:33.5px;width:16px"></i><i class="pr" style="top:17px;width:25px"></i><i class="pr" style="top:33.5px;width:25px"></i></div>
</div>
<svg width="1920" height="2485" style="z-index:4"><g fill="rgba(255,255,255,0.86)" stroke="#595959" stroke-width="1.2">
<polygon points="239.5,255.5 1438.6,255.5 1438.6,654 1252.5,654 1252.5,829.7 932.4,829.7 932.4,850.8 593.8,850.8 593.8,908 239.5,908"/>
<polygon points="603,1088.7 1476.4,1088.7 1476.4,1242.6 1648.6,1242.6 1648.6,1415.6 1474.1,1415.6 1474.1,1589 1221.8,1589 1221.8,1503.2 787.3,1503.2 787.3,1404.2 603,1404.2"/>
<polygon points="654.4,1706.6 1170.6,1706.6 1170.6,1746.8 1283.5,1746.8 1283.5,1921.2 1536.3,1921.2 1536.3,2348.5 1273.8,2348.5 1273.8,2248.1 710.5,2248.1 710.5,1919.2 654.4,1919.2"/>
</g></svg>
<div style="position:absolute;left:0;top:0;z-index:5">
<div class="n" style="left:285.3px;top:112px;width:165.1px;height:50.2px"><i class="hd"></i><i class="pl" style="top:17px;width:82.5px;height:16px"></i><i class="pr" style="top:17px;width:18.2px;height:16px"></i></div>
<div class="n" style="left:285.3px;top:177px;width:165.1px;height:50.2px"><i class="hd"></i><i class="pl" style="top:17px;width:82.5px;height:16px"></i><i class="pr" style="top:17px;width:18.2px;height:16px"></i></div>
<div class="n" style="left:43.2px;top:280px;width:115.6px;height:99.2px"><i class="hd"></i><i class="pl" style="top:17px;width:17px"></i><i class="pl" style="top:33.5px;width:17px"></i><i class="pl" style="top:50px;width:17px"></i><i class="pl" style="top:66.5px;width:17px"></i><i class="pr" style="top:17px;width:57px"></i><i class="pr" style="top:33.5px;width:57px"></i></div>
<div class="n" style="left:43.2px;top:403px;width:164.6px;height:49.8px"><i class="hd"></i><i class="pl" style="top:17px;width:82.3px;height:16px"></i><i class="pr" style="top:17px;width:18.1px;height:16px"></i></div>
<div class="n" style="left:622.3px;top:145.4px;width:82.5px;height:99.6px"><i class="hd"></i><i class="pl" style="top:17px;width:17px"></i><i class="pl" style="top:33.5px;width:17px"></i><i class="pr" style="top:17px;width:42px"></i><i class="pr" style="top:33.5px;width:42px"></i><i class="pr" style="top:50px;width:42px"></i><i class="pr" style="top:66.5px;width:42px"></i></div>
<div class="n" style="left:1615.8px;top:160.2px;width:99.1px;height:116.1px"><i class="hd"></i><i class="pl" style="top:17px;width:57px"></i><i class="pr" style="top:17px;width:17px"></i><i class="pr" style="top:33.5px;width:17px"></i><i class="pr" style="top:50px;width:17px"></i><i class="pr" style="top:66.5px;width:17px"></i><i class="pr" style="top:83px;width:17px"></i><i class="pr" style="top:99.5px;width:17px"></i></div>
<div class="n" style="left:1789.4px;top:225.1px;width:116.4px;height:99px"><i class="hd"></i><i class="pl" style="top:17px;width:17px"></i><i class="pl" style="top:33.5px;width:17px"></i><i class="pl" style="top:50px;width:17px"></i><i class="pl" style="top:66.5px;width:17px"></i><i class="pr" style="top:17px;width:56px"></i><i class="pr" style="top:33.5px;width:56px"></i></div>
<div class="n" style="left:1615.8px;top:301.9px;width:115.8px;height:99.6px"><i class="hd"></i><i class="pl" style="top:17px;width:17px"></i><i class="pl" style="top:33.5px;width:17px"></i><i class="pl" style="top:50px;width:17px"></i><i class="pl" style="top:66.5px;width:17px"></i><i class="pr" style="top:17px;width:56px"></i><i class="pr" style="top:33.5px;width:56px"></i></div>
<div class="n" style="left:1463.3px;top:363.4px;width:82.8px;height:132.6px"><i class="hd"></i><i class="pl" style="top:17px;width:40px"></i><i class="pl" style="top:33.5px;width:40px"></i><i class="pl" style="top:50px;width:40px"></i><i class="pr" style="top:17px;width:17px"></i><i class="pr" style="top:33.5px;width:17px"></i><i class="pr" style="top:50px;width:17px"></i><i class="pr" style="top:66.5px;width:17px"></i><i class="pr" style="top:83px;width:17px"></i><i class="pr" style="top:99.5px;width:17px"></i></div>
<div class="n" style="left:43.2px;top:641.1px;width:181px;height:33.6px"><i class="hd"></i><i class="fl" style="left:12.7px;width:41.6px"></i><i class="fm" style="left:54.3px;width:108.6px"></i></div>
<div class="n" style="left:43.2px;top:689.5px;width:181px;height:33.5px"><i class="hd"></i><i class="fl" style="left:12.7px;width:41.6px"></i><i class="fm" style="left:54.3px;width:108.6px"></i></div>
<div class="n" style="left:43.2px;top:738.4px;width:181px;height:33px"><i class="hd"></i><i class="fl" style="left:12.7px;width:41.6px"></i><i class="fm" style="left:54.3px;width:108.6px"></i></div>
<div class="n" style="left:140.3px;top:944.1px;width:213.9px;height:33.6px"><i class="hd"></i><i class="fl" style="left:15px;width:49.2px"></i><i class="fm" style="left:64.2px;width:128.3px"></i></div>
<div class="n" style="left:140.3px;top:992.5px;width:213.9px;height:34.1px"><i class="hd"></i><i class="fl" style="left:15px;width:49.2px"></i><i class="fm" style="left:64.2px;width:128.3px"></i></div>
<div class="n" style="left:513.8px;top:944.2px;width:99.3px;height:131.9px"><i class="hd"></i><i class="gl" style="width:20px"></i><i class="gl" style="left:auto;right:0;width:20px"></i><i class="gg" style="left:20px;right:20px"></i><i class="pl" style="top:17px;width:20px"></i><i class="pl" style="top:33.5px;width:20px"></i><i class="pl" style="top:50px;width:20px"></i><i class="pr" style="top:17px;width:20px"></i></div>
<div class="n" style="left:643.7px;top:944.2px;width:82.8px;height:66.2px"><i class="hd"></i><i class="pl" style="top:17px;width:56px"></i><i class="pl" style="top:33.5px;width:56px"></i><i class="pr" style="top:17px;width:17px"></i><i class="pr" style="top:33.5px;width:17px"></i></div>
<div class="n" style="left:803.5px;top:909.4px;width:214.3px;height:32.7px"><i class="hd"></i><i class="fl" style="left:15px;width:49.3px"></i><i class="fm" style="left:64.3px;width:128.6px"></i></div>
<div class="n" style="left:803.5px;top:958.3px;width:214.3px;height:33px"><i class="hd"></i><i class="fl" style="left:15px;width:49.3px"></i><i class="fm" style="left:64.3px;width:128.6px"></i></div>
<div class="n" style="left:1290.6px;top:762.3px;width:99px;height:115px"><i class="hd"></i><i class="pl" style="top:17px;width:57px"></i><i class="pr" style="top:17px;width:17px"></i><i class="pr" style="top:33.5px;width:17px"></i><i class="pr" style="top:50px;width:17px"></i><i class="pr" style="top:66.5px;width:17px"></i><i class="pr" style="top:83px;width:17px"></i></div>
<div class="n" style="left:1436px;top:746.4px;width:132.6px;height:65.4px"><i class="hd"></i><i class="pl" style="top:17px;width:14px"></i><i class="pl" style="top:33.5px;width:14px"></i><i class="pr" style="top:17px;width:42px"></i></div>
<div class="n" style="left:1048.4px;top:908.6px;width:115.5px;height:99.1px"><i class="hd"></i><i class="pl" style="top:17px;width:17px"></i><i class="pl" style="top:33.5px;width:17px"></i><i class="pl" style="top:50px;width:17px"></i><i class="pl" style="top:66.5px;width:17px"></i><i class="pr" style="top:17px;width:56px"></i><i class="pr" style="top:33.5px;width:56px"></i></div>
<div class="n" style="left:1257.6px;top:908.6px;width:132px;height:66.4px"><i class="hd"></i><i class="pl" style="top:17px;width:17px"></i><i class="pl" style="top:33.5px;width:17px"></i><i class="pr" style="top:17px;width:42px"></i></div>
<div class="n" style="left:1048.4px;top:1032.3px;width:164.8px;height:49.5px"><i class="hd"></i><i class="pl" style="top:17px;width:82.4px;height:16px"></i><i class="pr" style="top:17px;width:18.1px;height:16px"></i></div>
<div class="n" style="left:1502px;top:825.2px;width:164.8px;height:49.8px"><i class="hd"></i><i class="pl" style="top:17px;width:82.4px;height:16px"></i><i class="pr" style="top:17px;width:18.1px;height:16px"></i></div>
<div class="n" style="left:1759.2px;top:825.2px;width:115.6px;height:99px"><i class="hd"></i><i class="pl" style="top:17px;width:17px"></i><i class="pl" style="top:33.5px;width:17px"></i><i class="pl" style="top:50px;width:17px"></i><i class="pl" style="top:66.5px;width:17px"></i><i class="pr" style="top:17px;width:56px"></i><i class="pr" style="top:33.5px;width:56px"></i></div>
<div class="n" style="left:1759.2px;top:962.6px;width:115.6px;height:98.2px"><i class="hd"></i><i class="pl" style="top:17px;width:17px"></i><i class="pl" style="top:33.5px;width:17px"></i><i class="pl" style="top:50px;width:17px"></i><i class="pl" style="top:66.5px;width:17px"></i><i class="pr" style="top:17px;width:56px"></i><i class="pr" style="top:33.5px;width:56px"></i></div>
<div class="n" style="left:317.2px;top:1050.8px;width:82.6px;height:49.8px"><i class="hd"></i><i class="pr" style="top:17px;width:17px"></i></div>
<div class="n" style="left:87.6px;top:1185.1px;width:214px;height:33.3px"><i class="hd"></i><i class="fl" style="left:15px;width:49.2px"></i><i class="fm" style="left:64.2px;width:128.4px"></i></div>
<div class="n" style="left:317.2px;top:1186px;width:99.1px;height:115.2px"><i class="hd"></i><i class="pl" style="top:17px;width:57px"></i><i class="pr" style="top:17px;width:17px"></i><i class="pr" style="top:33.5px;width:17px"></i><i class="pr" style="top:50px;width:17px"></i><i class="pr" style="top:66.5px;width:17px"></i><i class="pr" style="top:83px;width:17px"></i></div>
<div class="n" style="left:54.9px;top:1346.7px;width:99px;height:132.3px"><i class="hd"></i><i class="gl" style="width:20px"></i><i class="gl" style="left:auto;right:0;width:20px"></i><i class="gg" style="left:20px;right:20px"></i><i class="pl" style="top:17px;width:20px"></i><i class="pl" style="top:33.5px;width:20px"></i><i class="pl" style="top:50px;width:20px"></i><i class="pr" style="top:17px;width:20px"></i></div>
<div class="n" style="left:54.9px;top:1494.4px;width:99px;height:132.3px"><i class="hd"></i><i class="gl" style="width:20px"></i><i class="gl" style="left:auto;right:0;width:20px"></i><i class="gg" style="left:20px;right:20px"></i><i class="pl" style="top:17px;width:20px"></i><i class="pl" style="top:33.5px;width:20px"></i><i class="pl" style="top:50px;width:20px"></i><i class="pr" style="top:17px;width:20px"></i></div>
<div class="n" style="left:54.9px;top:1643.2px;width:99px;height:132px"><i class="hd"></i><i class="gl" style="width:20px"></i><i class="gl" style="left:auto;right:0;width:20px"></i><i class="gg" style="left:20px;right:20px"></i><i class="pl" style="top:17px;width:20px"></i><i class="pl" style="top:33.5px;width:20px"></i><i class="pl" style="top:50px;width:20px"></i><i class="pr" style="top:17px;width:20px"></i></div>
<div class="n" style="left:54.9px;top:1791.2px;width:99px;height:132px"><i class="hd"></i><i class="gl" style="width:16.5px"></i><i class="gl" style="left:auto;right:0;width:23.4px"></i><i class="gg" style="left:16.5px;right:23.4px"></i><i class="pl" style="top:17px;width:16.5px"></i><i class="pl" style="top:33.5px;width:16.5px"></i><i class="pl" style="top:50px;width:16.5px"></i><i class="pr" style="top:17px;width:23.4px"></i></div>
<div class="n" style="left:470px;top:1335.9px;width:83.1px;height:66.3px"><i class="hd"></i><i class="pl" style="top:17px;width:40px"></i><i class="pl" style="top:33.5px;width:40px"></i><i class="pr" style="top:17px;width:17px"></i><i class="pr" style="top:33.5px;width:17px"></i></div>
<div class="n" style="left:470px;top:1418.4px;width:132.3px;height:65.5px"><i class="hd"></i><i class="pl" style="top:17px;width:14px"></i><i class="pl" style="top:33.5px;width:14px"></i><i class="pr" style="top:17px;width:42px"></i></div>
<div class="n" style="left:1515.4px;top:1051.4px;width:82.5px;height:131.7px"><i class="hd"></i><i class="pl" style="top:17px;width:40px"></i><i class="pl" style="top:33.5px;width:40px"></i><i class="pl" style="top:50px;width:40px"></i><i class="pr" style="top:17px;width:17px"></i><i class="pr" style="top:33.5px;width:17px"></i><i class="pr" style="top:50px;width:17px"></i><i class="pr" style="top:66.5px;width:17px"></i><i class="pr" style="top:83px;width:17px"></i><i class="pr" style="top:99.5px;width:17px"></i></div>
<div class="n" style="left:1789.4px;top:1099.8px;width:82.5px;height:98.7px"><i class="hd"></i><i class="pl" style="top:17px;width:17px"></i><i class="pl" style="top:33.5px;width:17px"></i><i class="pl" style="top:50px;width:17px"></i><i class="pr" style="top:17px;width:42px"></i><i class="pr" style="top:33.5px;width:42px"></i><i class="pr" style="top:50px;width:42px"></i><i class="pr" style="top:66.5px;width:42px"></i></div>
<div class="n" style="left:1670.5px;top:1271.9px;width:82.5px;height:131.7px"><i class="hd"></i><i class="pl" style="top:17px;width:40px"></i><i class="pl" style="top:33.5px;width:40px"></i><i class="pl" style="top:50px;width:40px"></i><i class="pr" style="top:17px;width:17px"></i><i class="pr" style="top:33.5px;width:17px"></i><i class="pr" style="top:50px;width:17px"></i><i class="pr" style="top:66.5px;width:17px"></i><i class="pr" style="top:83px;width:17px"></i><i class="pr" style="top:99.5px;width:17px"></i></div>
<div class="n" style="left:260.6px;top:1584.3px;width:116.4px;height:99.6px"><i class="hd"></i><i class="pl" style="top:17px;width:17px"></i><i class="pl" style="top:33.5px;width:17px"></i><i class="pl" style="top:50px;width:17px"></i><i class="pl" style="top:66.5px;width:17px"></i><i class="pr" style="top:17px;width:56px"></i><i class="pr" style="top:33.5px;width:56px"></i></div>
<div class="n" style="left:260.6px;top:1724.3px;width:165.4px;height:49.5px"><i class="hd"></i><i class="pl" style="top:17px;width:82.7px;height:16px"></i><i class="pr" style="top:17px;width:18.2px;height:16px"></i></div>
<div class="n" style="left:470px;top:1601px;width:132.3px;height:66.4px"><i class="hd"></i><i class="pl" style="top:17px;width:14px"></i><i class="pl" style="top:33.5px;width:14px"></i><i class="pr" style="top:17px;width:42px"></i></div>
<div class="n" style="left:470px;top:1724.3px;width:132.3px;height:66px"><i class="hd"></i><i class="pl" style="top:17px;width:14px"></i><i class="pl" style="top:33.5px;width:14px"></i><i class="pr" style="top:17px;width:42px"></i></div>
<div class="n" style="left:298.8px;top:1936px;width:213.9px;height:33.6px"><i class="hd"></i><i class="fl" style="left:15px;width:49.2px"></i><i class="fm" style="left:64.2px;width:128.3px"></i></div>
<div class="n" style="left:298.8px;top:1985.2px;width:213.9px;height:33.3px"><i class="hd"></i><i class="fl" style="left:15px;width:49.2px"></i><i class="fm" style="left:64.2px;width:128.3px"></i></div>
<div class="n" style="left:544px;top:1936px;width:115.3px;height:98.7px"><i class="hd"></i><i class="pl" style="top:17px;width:17px"></i><i class="pl" style="top:33.5px;width:17px"></i><i class="pl" style="top:50px;width:17px"></i><i class="pl" style="top:66.5px;width:17px"></i><i class="pr" style="top:17px;width:56px"></i><i class="pr" style="top:33.5px;width:56px"></i></div>
<div class="n" style="left:1192.2px;top:1662.8px;width:132.3px;height:65.8px"><i class="hd"></i><i class="pl" style="top:17px;width:17px"></i><i class="pl" style="top:33.5px;width:17px"></i><i class="pr" style="top:17px;width:42px"></i></div>
<div class="n" style="left:1353.2px;top:1662.3px;width:82.5px;height:132.3px"><i class="hd"></i><i class="pl" style="top:17px;width:40px"></i><i class="pl" style="top:33.5px;width:40px"></i><i class="pl" style="top:50px;width:40px"></i><i class="pr" style="top:17px;width:17px"></i><i class="pr" style="top:33.5px;width:17px"></i><i class="pr" style="top:50px;width:17px"></i><i class="pr" style="top:66.5px;width:17px"></i><i class="pr" style="top:83px;width:17px"></i><i class="pr" style="top:99.5px;width:17px"></i></div>
<div class="n" style="left:1555.5px;top:1531.8px;width:115.2px;height:98.8px"><i class="hd"></i><i class="pl" style="top:17px;width:17px"></i><i class="pl" style="top:33.5px;width:17px"></i><i class="pl" style="top:50px;width:17px"></i><i class="pl" style="top:66.5px;width:17px"></i><i class="pr" style="top:17px;width:56px"></i><i class="pr" style="top:33.5px;width:56px"></i></div>
<div class="n" style="left:1752.4px;top:1662.3px;width:115.2px;height:99px"><i class="hd"></i><i class="pl" style="top:17px;width:17px"></i><i class="pl" style="top:33.5px;width:17px"></i><i class="pl" style="top:50px;width:17px"></i><i class="pl" style="top:66.5px;width:17px"></i><i class="pr" style="top:17px;width:56px"></i><i class="pr" style="top:33.5px;width:56px"></i></div>
<div class="n" style="left:1551px;top:1835.3px;width:164.4px;height:49.7px"><i class="hd"></i><i class="pl" style="top:17px;width:82.2px;height:16px"></i><i class="pr" style="top:17px;width:18.1px;height:16px"></i></div>
<div class="n" style="left:194px;top:2258.4px;width:213.7px;height:33.8px"><i class="hd"></i><i class="fl" style="left:15px;width:49.2px"></i><i class="fm" style="left:64.1px;width:128.2px"></i></div>
<div class="n" style="left:439.6px;top:2258.4px;width:114.9px;height:99.3px"><i class="hd"></i><i class="pl" style="top:17px;width:17px"></i><i class="pl" style="top:33.5px;width:17px"></i><i class="pl" style="top:50px;width:17px"></i><i class="pl" style="top:66.5px;width:17px"></i><i class="pr" style="top:17px;width:56px"></i><i class="pr" style="top:33.5px;width:56px"></i></div>
<div class="n" style="left:1613.8px;top:2031.3px;width:82.8px;height:66.3px"><i class="hd"></i><i class="pl" style="top:17px;width:40px"></i><i class="pl" style="top:33.5px;width:40px"></i><i class="pr" style="top:17px;width:17px"></i><i class="pr" style="top:33.5px;width:17px"></i></div>
<div class="n" style="left:1749.6px;top:2031.3px;width:115.5px;height:99.6px"><i class="hd"></i><i class="pl" style="top:17px;width:17px"></i><i class="pl" style="top:33.5px;width:17px"></i><i class="pl" style="top:50px;width:17px"></i><i class="pl" style="top:66.5px;width:17px"></i><i class="pr" style="top:17px;width:56px"></i><i class="pr" style="top:33.5px;width:56px"></i></div>
<div class="n" style="left:1749.6px;top:2143.1px;width:115.5px;height:99.3px"><i class="hd"></i><i class="pl" style="top:17px;width:17px"></i><i class="pl" style="top:33.5px;width:17px"></i><i class="pl" style="top:50px;width:17px"></i><i class="pr" style="top:17px;width:56px"></i></div>
<div class="n" style="left:1597.3px;top:2176.4px;width:99.3px;height:132.3px"><i class="hd"></i><i class="gl" style="width:20px"></i><i class="gl" style="left:auto;right:0;width:20px"></i><i class="gg" style="left:20px;right:20px"></i><i class="pl" style="top:17px;width:20px"></i><i class="pl" style="top:33.5px;width:20px"></i><i class="pl" style="top:50px;width:20px"></i><i class="pr" style="top:17px;width:20px"></i></div>
</div>
<svg width="1920" height="2485" style="z-index:6"><g fill="none" stroke="#3f80c9" stroke-width="3.1" stroke-linecap="round">
<path d="M155 304C232 304 205 536.4 343 536.4"/>
<path d="M207.8 428C257.8 428 215 577.7 343 577.7"/>
<path d="M224.1 666.4C275.1 666.4 267.4 607 343.4 607"/>
<path d="M222.4 712.3C268.4 712.3 269.4 632 343.4 632"/>
<path d="M222.8 763.6C256.8 763.6 272.4 655.9 343.4 655.9"/>
<path d="M1156.6 528.4C1453.6 528.4 1334.8 185.3 1615.8 185.3"/>
<path d="M1156.6 556.8C1272.6 556.8 1392 392.8 1462 392.8"/>
<path d="M1156.6 583.4C1297.6 583.4 1387 419.7 1462 419.7"/>
<path d="M1156.3 605.5C1260.3 605.5 1389 770.6 1436 770.6"/>
<path d="M1156.3 633.4C1265.3 633.4 1249.6 786.8 1290.6 786.8"/>
<path d="M399.8 1075.6C581.8 1075.6 462 1202.1 673 1202.1"/>
<path d="M552.4 1360.7C629.4 1360.7 568 1225.2 673 1225.2"/>
<path d="M552.4 1377.4C646.4 1377.4 604 1242.6 673 1242.6"/>
<path d="M603.1 1443.5C669.1 1443.5 611 1258 673 1258"/>
<path d="M602.9 1626.7C670.9 1626.7 631 1280.3 673 1280.3"/>
<path d="M1440.8 1210.9C1503.8 1210.9 1439.5 1109.2 1515.5 1109.2"/>
<path d="M1440.8 1228.3C1571.8 1228.3 1535.4 1297.7 1670.4 1297.7"/>
<path d="M1440.8 1242.5C1574.8 1242.5 1536.4 1311.6 1670.4 1311.6"/>
<path d="M1441.6 1263.2C1498.6 1263.2 1456.5 1557.4 1554.5 1557.4"/>
<path d="M1441.6 1263.2C1499.6 1263.2 1457.5 1571.3 1554.5 1571.3"/>
<path d="M1441.6 1263.2C1501.6 1263.2 1458.5 1589.4 1554.5 1589.4"/>
<path d="M1441.6 1263.2C1503.6 1263.2 1459.5 1607.1 1554.5 1607.1"/>
<path d="M603 1749.3C667 1749.3 684.3 1868 748.3 1868"/>
<path d="M660.5 1959.5C727.5 1959.5 684.3 1905 748.3 1905"/>
<path d="M660.5 1977.4C723.5 1977.4 683.3 1934.7 748.3 1934.7"/>
<path d="M554.5 2283.2C678.5 2283.2 652.3 1973.7 748.3 1973.7"/>
<path d="M1160.6 1868.6C1192.6 1868.6 1155.7 1705.6 1191.7 1705.6"/>
<path d="M1160.6 1901C1283.6 1901 1270.3 1721.7 1352.3 1721.7"/>
<path d="M1160.6 1940.2C1361.6 1940.2 1336 1861.2 1551 1861.2"/>
<path d="M1161.4 1968.7C1399.4 1968.7 1365 2057.4 1614 2057.4"/>
<path d="M1161.9 2004.2C1384.9 2004.2 1368.3 2202.6 1597.3 2202.6"/>
<path d="M1161.9 2037C1382.9 2037 1343.3 2235 1597.3 2235"/>
</g></svg>
<div style="position:absolute;left:0;top:0;z-index:7">
<div class="bn" style="left:343px;top:479.5px;width:813.3px;height:272.2px"><i class="bh" style="left:0;top:0;right:0;height:35.9px"></i><i class="br" style="left:0;top:35.9px;width:261.5px;height:24px"></i><i class="br bt" style="left:0;top:59.9px;width:261.5px;height:23.9px"></i><i class="br bt" style="left:0;top:83.8px;width:261.5px;height:24.7px"></i><i class="br bt" style="left:0;top:108.5px;width:261.5px;height:24.4px"></i><i class="br bt" style="left:0;top:132.9px;width:261.5px;height:25.3px"></i><i class="br bt" style="left:0;top:158.2px;width:261.5px;height:22.7px"></i><i class="bp" style="left:261.5px;top:34.9px;width:509.4px;height:196.3px"></i><i class="bo" style="left:770.9px;top:35.9px;right:0;height:24px"></i><i class="bo bt" style="left:770.9px;top:59.9px;right:0;height:23.9px"></i><i class="bo bt" style="left:770.9px;top:83.8px;right:0;height:24.7px"></i><i class="bo bt" style="left:770.9px;top:108.5px;right:0;height:24.4px"></i><i class="bo bt" style="left:770.9px;top:132.9px;right:0;height:25.3px"></i><i class="bo" style="left:770.9px;top:207.5px;right:0;height:23.7px"></i><i class="bi" style="left:784.6px;top:243.5px;width:10.8px;height:11.4px"></i></div>
<div class="bn" style="left:673.5px;top:1169.5px;width:765.9px;height:200.5px"><i class="bh" style="left:0;top:0;right:0;height:26px"></i><i class="br" style="left:0;top:26px;width:245.8px;height:16.9px"></i><i class="br bt" style="left:0;top:42.9px;width:245.8px;height:17.6px"></i><i class="br bt" style="left:0;top:60.5px;width:245.8px;height:18px"></i><i class="br bt" style="left:0;top:78.5px;width:245.8px;height:17.9px"></i><i class="br bt" style="left:0;top:96.4px;width:245.8px;height:18.2px"></i><i class="br bt" style="left:0;top:114.6px;width:245.8px;height:17.9px"></i><i class="bp" style="left:245.8px;top:25px;width:481.1px;height:143.7px"></i><i class="bo" style="left:726.9px;top:26px;right:0;height:16.9px"></i><i class="bo bt" style="left:726.9px;top:42.9px;right:0;height:17.6px"></i><i class="bo bt" style="left:726.9px;top:60.5px;right:0;height:18px"></i><i class="bo bt" style="left:726.9px;top:78.5px;right:0;height:17.9px"></i><i class="bo bt" style="left:726.9px;top:96.4px;right:0;height:18.2px"></i><i class="bo" style="left:726.9px;top:151px;right:0;height:17.7px"></i><i class="bi" style="left:739.2px;top:176.5px;width:10.8px;height:10.5px"></i></div>
<div class="bn" style="left:747.3px;top:1799.2px;width:414px;height:370.4px"><i class="bh" style="left:0;top:0;right:0;height:49.8px"></i><i class="br" style="left:0;top:49.8px;width:131.5px;height:32.9px"></i><i class="br bt" style="left:0;top:82.7px;width:131.5px;height:33.1px"></i><i class="br bt" style="left:0;top:115.8px;width:131.5px;height:33.6px"></i><i class="br bt" style="left:0;top:149.4px;width:131.5px;height:33.3px"></i><i class="br bt" style="left:0;top:182.7px;width:131.5px;height:33.6px"></i><i class="br bt" style="left:0;top:216.3px;width:131.5px;height:32.5px"></i><i class="bp" style="left:131.5px;top:48.8px;width:258px;height:268px"></i><i class="bo" style="left:389.5px;top:49.8px;right:0;height:32.9px"></i><i class="bo bt" style="left:389.5px;top:82.7px;right:0;height:33.1px"></i><i class="bo bt" style="left:389.5px;top:115.8px;right:0;height:33.6px"></i><i class="bo bt" style="left:389.5px;top:149.4px;right:0;height:33.3px"></i><i class="bo bt" style="left:389.5px;top:182.7px;right:0;height:33.6px"></i><i class="bo" style="left:389.5px;top:283.5px;right:0;height:33.3px"></i><i class="bi" style="left:395.7px;top:332.4px;width:6.3px;height:16px"></i></div>
</div>
</div></body></html>
